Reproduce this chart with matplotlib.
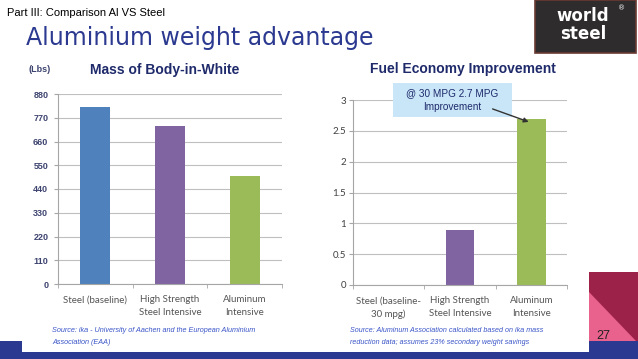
import matplotlib
matplotlib.use('Agg')
import matplotlib.pyplot as plt
from matplotlib.patches import Rectangle, Polygon

#Datos de las graficas:
mass_labels = ['Steel (baseline)', 'High Strength\nSteel Intensive', 'Aluminum\nIntensive']
mass_values = [820, 730, 500]
mass_ticks = [0, 110, 220, 330, 440, 550, 660, 770, 880]

fuel_labels = ['Steel (baseline-\n30 mpg)', 'High Strength\nSteel Intensive', 'Aluminum\nIntensive']
fuel_values = [0, 0.9, 2.7]
fuel_ticks = [0, 0.5, 1, 1.5, 2, 2.5, 3]
fuel_ticklabels = ['0', '0.5', '1', '1.5', '2', '2.5', '3']

bar_colors = ['#4F81BD', '#8064A2', '#9BBB59']

W, H = 638, 359
navy = '#2B3990'

def fx(px):
    return px/W

def fy(py):
    return 1 - py/H

def pix_axes(fig, x0, x1, ytop, ybot):
    return fig.add_axes([fx(x0), fy(ybot), (x1-x0)/W, (ybot-ytop)/H])

def style_axes(ax, ncat, ypad):
    for s in ['top', 'right']:
        ax.spines[s].set_visible(False)
    for s in ['left', 'bottom']:
        ax.spines[s].set_color('#A6A6A6')
        ax.spines[s].set_linewidth(0.8)
    ax.set_xlim(-0.5, ncat-0.5)
    ax.yaxis.grid(True, color='#BFBFBF', linewidth=0.8)
    ax.set_axisbelow(True)
    ax.tick_params(axis='y', length=3, color='#A6A6A6', pad=ypad)
    ax.tick_params(axis='x', which='major', length=0, pad=8)
    ax.set_xticks([i-0.5 for i in range(ncat+1)], minor=True)
    ax.tick_params(axis='x', which='minor', length=3, color='#A6A6A6')

fig = plt.figure(figsize=(W/100, H/100), dpi=100)
fig.patch.set_facecolor('white')

#Cabecera:
fig.text(fx(7), fy(13), 'Part III: Comparison Al VS Steel', fontsize=8, family='Liberation Sans',
         color='black', va='center', ha='left')
fig.text(fx(26), fy(38), 'Aluminium weight advantage', fontsize=17, family='DejaVu Sans',
         color=navy, va='center', ha='left')

#Logo:
fig.patches.append(Rectangle((fx(535), fy(53)), 101/W, 53/H, transform=fig.transFigure,
                             facecolor='#2E2C2C', edgecolor='#6B3A32', linewidth=1.2))
fig.text(fx(583), fy(16), 'world', fontsize=12, weight='bold', color='white', ha='center', va='center',
         family='DejaVu Sans')
fig.text(fx(583), fy(34), 'steel', fontsize=12, weight='bold', color='white', ha='center', va='center',
         family='DejaVu Sans')
fig.text(fx(622), fy(8), '®', fontsize=5, color='white', ha='center', va='center')

#Grafica izquierda: masa
ax1 = pix_axes(fig, 58, 282, 94, 284)
ax1.bar(range(len(mass_values)), mass_values, width=0.4, color=bar_colors)
style_axes(ax1, len(mass_values), 4)
ax1.set_ylim(0, 880)
ax1.set_yticks(mass_ticks)
ax1.set_yticklabels([str(t) for t in mass_ticks], fontsize=6.5, weight='bold', color='#3E4470',
                    family='Liberation Sans')
ax1.set_xticks(range(len(mass_labels)))
ax1.set_xticklabels(mass_labels, fontsize=7, color='#555555', family='Lato', linespacing=1.6)

fig.text(fx(165), fy(70), 'Mass of Body-in-White', fontsize=10, weight='bold', color='#1F2A6B',
         family='Liberation Sans', ha='center', va='center')
fig.text(fx(40), fy(69), '(Lbs)', fontsize=6.5, weight='bold', color='#3E4470',
         family='Liberation Sans', ha='center', va='center')
fig.text(fx(52), fy(336.5), 'Source: ika - University of Aachen and the European Aluminium\nAssociation (EAA)',
         fontsize=5.2, style='italic', color='#3A55C8', family='Liberation Sans',
         ha='left', va='center', linespacing=1.8)

#Grafica derecha: consumo
ax2 = pix_axes(fig, 353, 567, 100, 285)
ax2.bar(range(len(fuel_values)), fuel_values, width=0.4, color=bar_colors)
style_axes(ax2, len(fuel_values), 2)
ax2.set_ylim(0, 3)
ax2.set_yticks(fuel_ticks)
ax2.set_yticklabels(fuel_ticklabels, fontsize=7, color='#404040', family='Lato')
ax2.set_xticks(range(len(fuel_labels)))
ax2.set_xticklabels(fuel_labels, fontsize=7, color='#555555', family='Lato', linespacing=1.6)

fig.text(fx(463), fy(69), 'Fuel Economy Improvement', fontsize=10, weight='bold', color='#1F2A6B',
         family='Liberation Sans', ha='center', va='center')
fig.text(fx(350), fy(336.5), 'Source: Aluminum Association calculated based on ika mass\nreduction data; assumes 23% secondary weight savings',
         fontsize=5.1, style='italic', color='#3A55C8', family='Liberation Sans',
         ha='left', va='center', linespacing=1.8)

#Recuadro de anotacion (dentro de ax2 para que la flecha quede encima):
ax2.add_patch(Rectangle((fx(393), fy(117)), 119/W, 34/H, transform=fig.transFigure,
                        facecolor='#C9E6F8', edgecolor='none', zorder=5, clip_on=False))
ax2.text(fx(452), fy(100), '@ 30 MPG 2.7 MPG\nImprovement', fontsize=7.2, color='#1F2A6B',
         family='Liberation Sans', ha='center', va='center', linespacing=1.45, zorder=6,
         transform=fig.transFigure)
ax2.annotate('', xy=(2, fuel_values[2]-0.07), xycoords='data',
             xytext=(fx(490), fy(108)), textcoords='figure fraction',
             arrowprops=dict(arrowstyle='-|>', color='#333333', lw=1, mutation_scale=7),
             zorder=7, annotation_clip=False)

#Decoraciones inferiores:
fig.patches.append(Rectangle((0, 0), 1, 7/H, transform=fig.transFigure, facecolor=navy, edgecolor='none'))
fig.patches.append(Rectangle((0, fy(352)), 22/W, 11/H, transform=fig.transFigure, facecolor=navy, edgecolor='none'))
fig.patches.append(Rectangle((fx(589), fy(341)), 49/W, 69/H, transform=fig.transFigure,
                             facecolor='#9C2249', edgecolor='none'))
fig.patches.append(Polygon([(fx(589), fy(292)), (fx(589), fy(341)), (fx(636), fy(341))],
                           closed=True, transform=fig.transFigure, facecolor='#E9618D', edgecolor='none'))
fig.patches.append(Rectangle((fx(589), fy(352)), 49/W, 11/H, transform=fig.transFigure,
                             facecolor=navy, edgecolor='none'))
fig.text(fx(603), fy(336), '27', fontsize=9, color='#222222', family='Liberation Sans',
         ha='center', va='center')

fig.savefig('out.png', dpi=100)
